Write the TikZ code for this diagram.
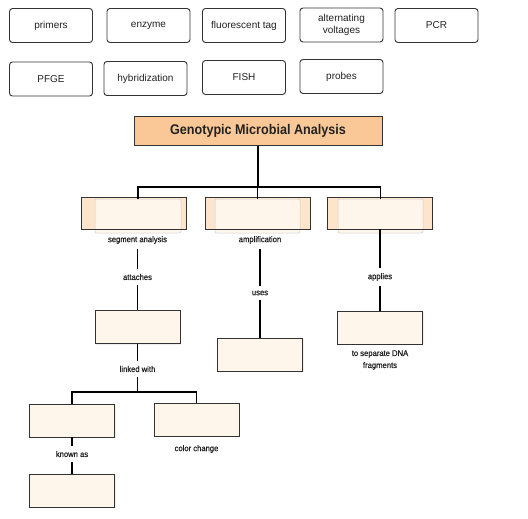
\documentclass[tikz,border=0pt]{standalone}
\usepackage{fontspec}
\setmainfont{Liberation Sans}
\newfontfamily\gmNarrow[FakeStretch=0.9]{Liberation Sans}
\newfontfamily\gmSmall[FakeStretch=0.92,FakeBold=0.8]{Liberation Sans}
\usepackage{xcolor}
\usepackage{tikz}
\usetikzlibrary{positioning,shadows}
\definecolor{gmInk}{HTML}{222222}
\definecolor{gmLine}{HTML}{333333}
\definecolor{gmTitle}{HTML}{FAC896}
\definecolor{gmSlot}{HTML}{FDE5CC}
\definecolor{gmPaper}{HTML}{FEF5EB}
\definecolor{gmRim}{HTML}{CFCFCF}
\tikzset{
  gm diagram/.style={font=\fontsize{10}{11.5}\selectfont, text=gmInk},
  gm bank/.style={draw=gmLine, fill=white, line width=0.9pt,
    rounded corners=3pt, minimum width=83pt, minimum height=34pt,
    align=center, inner sep=2pt},
  gm title/.style={draw=gmLine, fill=gmTitle, line width=1pt,
    minimum width=248pt, minimum height=28pt,
    font=\gmNarrow\bfseries\fontsize{14}{16}\selectfont},
  gm slot/.style={fill=gmSlot, minimum width=104pt, minimum height=31pt, inner sep=0pt},
  gm slot inner/.style={draw=gmRim, fill=gmPaper, line width=0.5pt,
    rounded corners=2pt, minimum height=34pt, inner sep=0pt},
  gm edge/.style={draw=gmLine, line width=0.9pt},
  gm box/.style={gm edge, fill=gmPaper, minimum width=85pt, minimum height=33pt,
    inner sep=0pt, drop shadow={shadow xshift=1pt, shadow yshift=-1pt, fill=black!12}},
  gm link/.style={draw=black, line width=1.2pt},
  gm label/.style={font=\gmSmall\fontsize{8.3}{12}\selectfont, text=gmInk,
    align=center, inner sep=2pt, outer sep=3pt}
}
\begin{document}
\begin{tikzpicture}[gm diagram,x=1pt,y=-1pt]
\useasboundingbox (0,0) rectangle (528,519);
\foreach \name/\x/\y/\word in {primers/51/25.5/primers, enzyme/148.5/25.5/enzyme,
  tag/244/25.5/fluorescent tag, volt/341.5/25/{alternating\\voltages}, pcr/436.5/25.5/PCR,
  pfge/51/79/PFGE, hyb/145.5/78.5/hybridization, fish/244/77.5/FISH, probes/341.5/76.5/probes}
  \node[gm bank] (\name) at (\x,\y) {\word};
\node[gm title] (title) at (258,131) {Genotypic Microbial Analysis};
\foreach \name/\x/\dx/\w in {seg/134/4/86, amp/258/-0.5/85, app/380/0.5/85}{
  \node[gm slot] (\name) at (\x,213.5) {};
  \node[gm slot inner, minimum width=\w pt] (\name-in) at (\x+\dx,216) {};
  \draw[gm edge] (\name.north west) rectangle (\name.south east);
}
\draw[gm link] (title) -- ++(0,56) coordinate (fork);
\draw[gm link] (seg-in.north) |- (fork) -| (app-in.north);
\draw[gm link] (amp-in.north |- fork) -- (amp-in.north);
\node[gm label] (segLbl) at (137.5,240) {segment analysis};
\node[gm label] (ampLbl) at (260,240) {amplification};
\node[gm label] (attaches) at (137.5,277) {attaches};
\node[gm label] (uses) at (260,293) {uses};
\node[gm label] (applies) at (380,277) {applies};
\node[gm box] (linkBox) at (137.5,327) {};
\node[gm box] (useBox) at (260,354.5) {};
\node[gm box] (sepBox) at (380,327.5) {};
\node[gm label] (sepLbl) at (380,360) {to separate DNA\\fragments};
\node[gm label] (linked) at (137.5,369) {linked with};
\node[gm box] (knownBox) at (72,420.5) {};
\node[gm box] (colorBox) at (196.5,419.5) {};
\node[gm label] (known) at (72,454) {known as};
\node[gm label] (colorLbl) at (196.5,449) {color change};
\node[gm box] (lastBox) at (72,490.5) {};
\draw[gm link] (segLbl) -- (attaches) -- (linkBox);
\draw[gm link] (ampLbl) -- (uses) -- (useBox);
\draw[gm link] (app) -- (applies) -- (sepBox);
\draw[gm link] (linkBox) -- (linked);
\draw[gm link] (linked) -- ++(0,23) coordinate (split);
\draw[gm link] (knownBox.north) |- (split) -| (colorBox.north);
\draw[gm link] (knownBox) -- (known) -- (lastBox);
\end{tikzpicture}
\end{document}
